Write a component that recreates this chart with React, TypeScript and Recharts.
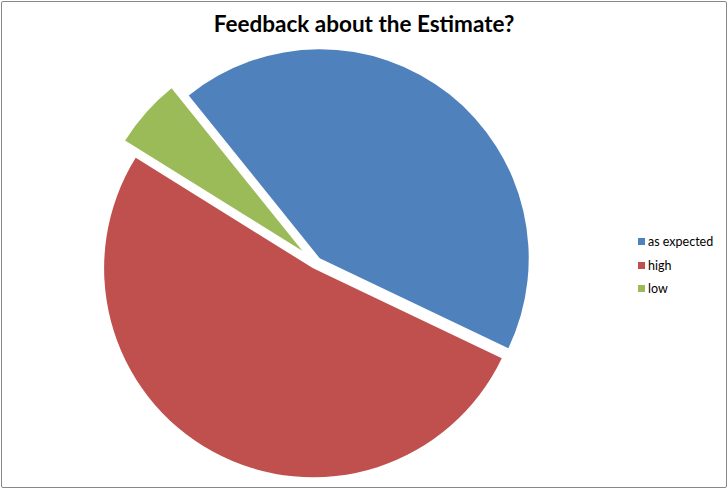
import React from 'react';
import { PieChart, Pie, Cell, Legend } from 'recharts';

const categories = ['as expected', 'high', 'low'];
const counts = [24, 29, 3];
const colors = ['#4F81BD', '#C0504D', '#9BBB59'];
const explodePx = [6, 6, 18];

const W = 728;
const H = 489;
const CX = 316;
const CY = 263;
const R = 209;
const START = 128.8;

const data = categories.map((name, i) => ({ name, value: counts[i] }));
const total = counts.reduce((a, b) => a + b, 0);

const offsets = (() => {
  let acc = 0;
  return counts.map((v, i) => {
    const start = START - (acc / total) * 360;
    const sweep = (v / total) * 360;
    acc += v;
    const mid = ((start - sweep / 2) * Math.PI) / 180;
    return { dx: explodePx[i] * Math.cos(mid), dy: -explodePx[i] * Math.sin(mid) };
  });
})();

const LegendContent = () => (
  <div style={{ fontFamily: 'Lato, sans-serif', fontSize: 12.5, color: '#000' }}>
    {categories.map((n, i) => (
      <div key={n} style={{ display: 'flex', alignItems: 'center', height: 23.8, whiteSpace: 'nowrap' }}>
        <span style={{ display: 'inline-block', width: 7, height: 7, background: colors[i], marginRight: 3 }} />
        <span>{n}</span>
      </div>
    ))}
  </div>
);

export default function App() {
  return (
    <div style={{ position: 'fixed', left: 0, top: 0, width: W, height: H, background: '#fff' }}>
      <div
        style={{
          position: 'absolute',
          left: 1,
          top: 1,
          width: 724,
          height: 485,
          border: '1px solid #878787',
          borderRadius: 2,
        }}
      />
      <div
        style={{
          position: 'absolute',
          left: 0,
          top: 13,
          width: W,
          textAlign: 'center',
          fontFamily: 'Lato, sans-serif',
          fontWeight: 700,
          fontSize: 22.5,
          lineHeight: 1,
          color: '#000',
        }}
      >
        Feedback about the Estimate?
      </div>
      <div style={{ position: 'absolute', left: 0, top: 0 }}>
        <PieChart width={W} height={H} margin={{ top: 0, right: 0, bottom: 0, left: 0 }}>
          {categories.map((_, k) => (
            <Pie
              key={k}
              data={data}
              dataKey="value"
              nameKey="name"
              cx={CX + offsets[k].dx}
              cy={CY + offsets[k].dy}
              outerRadius={R}
              startAngle={START}
              endAngle={START - 360}
              stroke="none"
              isAnimationActive={false}
              legendType="none"
            >
              {data.map((d, i) => (
                <Cell key={d.name} fill={i === k ? colors[i] : 'none'} stroke="none" />
              ))}
            </Pie>
          ))}
          <Legend
            content={() => <LegendContent />}
            wrapperStyle={{ position: 'absolute', left: 638, top: 229.5, width: 90, height: 72, right: 'auto', bottom: 'auto' }}
          />
        </PieChart>
      </div>
    </div>
  );
}
